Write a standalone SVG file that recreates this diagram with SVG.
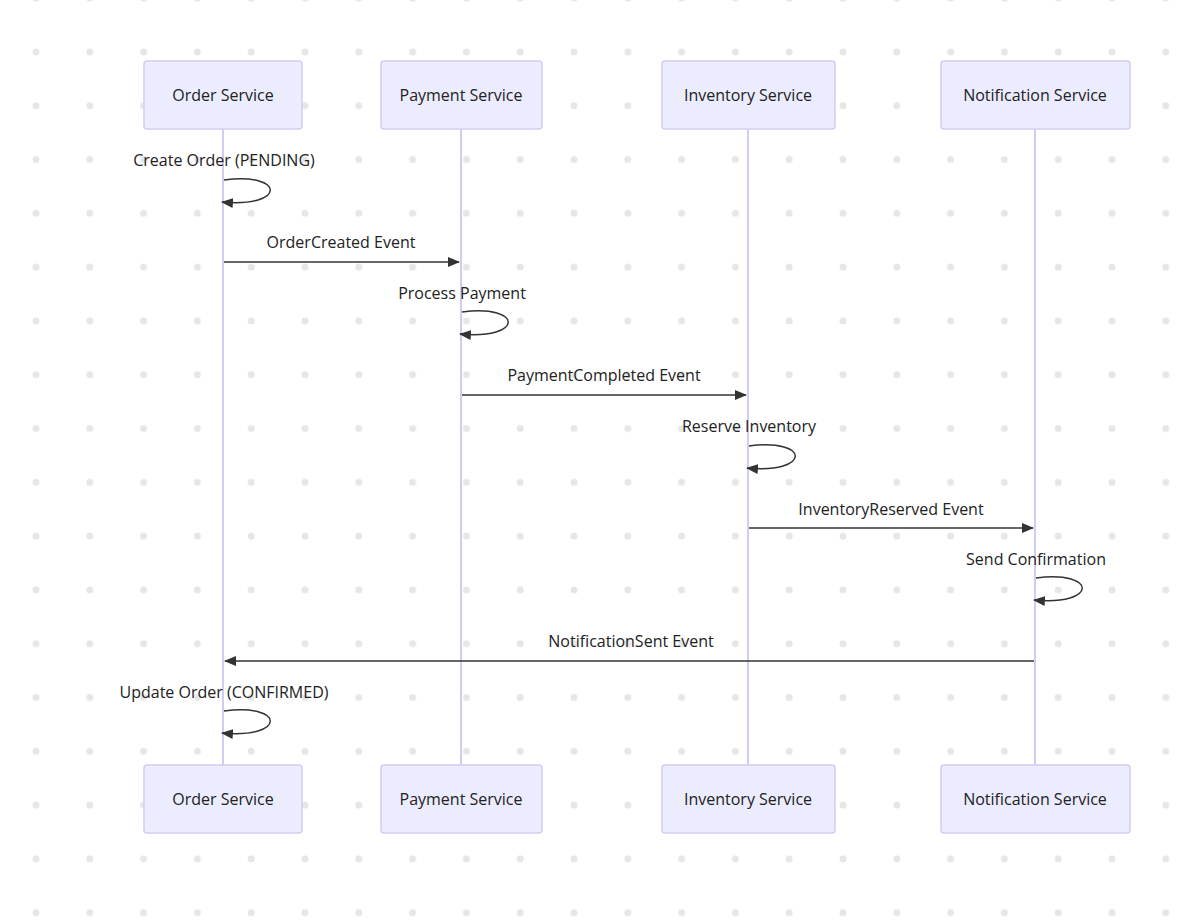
<svg xmlns="http://www.w3.org/2000/svg" width="1200" height="922" viewBox="0 0 1200 922">
<defs>
<pattern id="dots" x="9" y="25" width="53.8" height="53.8" patternUnits="userSpaceOnUse"><circle cx="27" cy="27" r="3.5" fill="#e6e6e6"/></pattern>
<marker id="ah" viewBox="0 0 12 10" refX="11" refY="5" markerWidth="12" markerHeight="10" markerUnits="userSpaceOnUse" orient="auto"><path d="M0,0 L12,5 L0,10 z" fill="#333"/></marker>
<style>
.box{fill:#ececff;stroke:#d4cbf5;stroke-width:1.5}
.life{stroke:#d4cbf5;stroke-width:2}
.t{font-family:"Open Sans","DejaVu Sans",sans-serif;font-size:16px;fill:#222;text-anchor:middle}
.m{stroke:#333;stroke-width:1.5;fill:none;marker-end:url(#ah)}
</style>
</defs>
<rect width="1200" height="922" fill="#fff"/>
<rect width="1200" height="922" fill="url(#dots)"/>
<g id="lifelines">
<line class="life" x1="223" y1="129" x2="223" y2="765"/>
<line class="life" x1="461" y1="129" x2="461" y2="765"/>
<line class="life" x1="748" y1="129" x2="748" y2="765"/>
<line class="life" x1="1035" y1="129" x2="1035" y2="765"/>
</g>
<g id="order-top"><rect class="box" x="144" y="61" width="158" height="68" rx="3"/><text class="t" x="223" y="101">Order Service</text></g>
<g id="payment-top"><rect class="box" x="381" y="61" width="161" height="68" rx="3"/><text class="t" x="461" y="101">Payment Service</text></g>
<g id="inventory-top"><rect class="box" x="662" y="61" width="173" height="68" rx="3"/><text class="t" x="748" y="101">Inventory Service</text></g>
<g id="notification-top"><rect class="box" x="941" y="61" width="189" height="68" rx="3"/><text class="t" x="1035" y="101">Notification Service</text></g>
<g id="order-bottom"><rect class="box" x="144" y="765" width="158" height="68" rx="3"/><text class="t" x="223" y="805">Order Service</text></g>
<g id="payment-bottom"><rect class="box" x="381" y="765" width="161" height="68" rx="3"/><text class="t" x="461" y="805">Payment Service</text></g>
<g id="inventory-bottom"><rect class="box" x="662" y="765" width="173" height="68" rx="3"/><text class="t" x="748" y="805">Inventory Service</text></g>
<g id="notification-bottom"><rect class="box" x="941" y="765" width="189" height="68" rx="3"/><text class="t" x="1035" y="805">Notification Service</text></g>
<g id="connectors">
<path class="m" d="M224,180 C286,172 286,208 222,202"/>
<text class="t" x="224" y="166">Create Order (PENDING)</text>
<path class="m" d="M224,262 L459,262"/>
<text class="t" x="341" y="248">OrderCreated Event</text>
<path class="m" d="M462,312 C524,304 524,340 460,334"/>
<text class="t" x="462" y="299">Process Payment</text>
<path class="m" d="M462,395 L746,395"/>
<text class="t" x="604" y="381">PaymentCompleted Event</text>
<path class="m" d="M749,446 C811,438 811,474 747,468"/>
<text class="t" x="749" y="432">Reserve Inventory</text>
<path class="m" d="M749,528 L1033,528"/>
<text class="t" x="891" y="515">InventoryReserved Event</text>
<path class="m" d="M1036,578 C1098,570 1098,606 1034,600"/>
<text class="t" x="1036" y="565">Send Confirmation</text>
<path class="m" d="M1034,661 L225,661"/>
<text class="t" x="631" y="647">NotificationSent Event</text>
<path class="m" d="M224,711 C286,703 286,739 222,733"/>
<text class="t" x="224" y="698">Update Order (CONFIRMED)</text>
</g>
</svg>
